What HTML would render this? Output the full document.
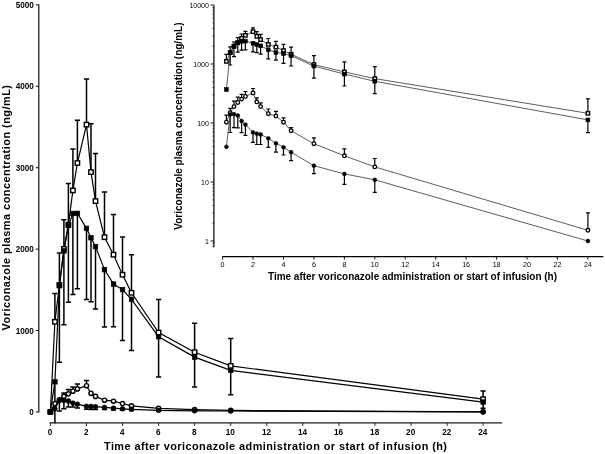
<!DOCTYPE html>
<html lang="en"><head><meta charset="utf-8"><title>Voriconazole plasma concentration</title>
<style>html,body{margin:0;padding:0;background:#fff}body{width:605px;height:454px;overflow:hidden}svg text{fill:#000}</style>
</head><body>
<svg width="605" height="454" viewBox="0 0 605 454" style="display:block;font-family:'Liberation Sans',Arial,sans-serif">
<rect width="605" height="454" fill="#fff"/>
<g id="main">
<path d="M38.8 4.4V412.5" stroke="#1a1a1a" stroke-width="1.25" fill="none"/>
<path d="M49.5 422.9H502.2" stroke="#1a1a1a" stroke-width="1.25" fill="none"/>
<path d="M35.8 411.9H38.8" stroke="#1a1a1a" stroke-width="1.1"/>
<text x="29.3" y="414.9" font-size="9" font-weight="bold" textLength="4.5" lengthAdjust="spacingAndGlyphs">0</text>
<path d="M35.8 330.5H38.8" stroke="#1a1a1a" stroke-width="1.1"/>
<text x="15.7" y="333.5" font-size="9" font-weight="bold" textLength="18.2" lengthAdjust="spacingAndGlyphs">1000</text>
<path d="M35.8 249.1H38.8" stroke="#1a1a1a" stroke-width="1.1"/>
<text x="15.7" y="252.1" font-size="9" font-weight="bold" textLength="18.2" lengthAdjust="spacingAndGlyphs">2000</text>
<path d="M35.8 167.7H38.8" stroke="#1a1a1a" stroke-width="1.1"/>
<text x="15.7" y="170.7" font-size="9" font-weight="bold" textLength="18.2" lengthAdjust="spacingAndGlyphs">3000</text>
<path d="M35.8 86.3H38.8" stroke="#1a1a1a" stroke-width="1.1"/>
<text x="15.7" y="89.3" font-size="9" font-weight="bold" textLength="18.2" lengthAdjust="spacingAndGlyphs">4000</text>
<path d="M35.8 4.9H38.8" stroke="#1a1a1a" stroke-width="1.1"/>
<text x="15.7" y="7.9" font-size="9" font-weight="bold" textLength="18.2" lengthAdjust="spacingAndGlyphs">5000</text>
<path d="M50.4 422.9V426" stroke="#1a1a1a" stroke-width="0.9"/>
<text x="47.8" y="434.9" font-size="9" font-weight="bold" textLength="4.5" lengthAdjust="spacingAndGlyphs">0</text>
<path d="M86.5 422.9V426" stroke="#1a1a1a" stroke-width="0.9"/>
<text x="83.9" y="434.9" font-size="9" font-weight="bold" textLength="4.5" lengthAdjust="spacingAndGlyphs">2</text>
<path d="M122.5 422.9V426" stroke="#1a1a1a" stroke-width="0.9"/>
<text x="119.9" y="434.9" font-size="9" font-weight="bold" textLength="4.5" lengthAdjust="spacingAndGlyphs">4</text>
<path d="M158.6 422.9V426" stroke="#1a1a1a" stroke-width="0.9"/>
<text x="156.0" y="434.9" font-size="9" font-weight="bold" textLength="4.5" lengthAdjust="spacingAndGlyphs">6</text>
<path d="M194.6 422.9V426" stroke="#1a1a1a" stroke-width="0.9"/>
<text x="192.1" y="434.9" font-size="9" font-weight="bold" textLength="4.5" lengthAdjust="spacingAndGlyphs">8</text>
<path d="M230.7 422.9V426" stroke="#1a1a1a" stroke-width="0.9"/>
<text x="225.8" y="434.9" font-size="9" font-weight="bold" textLength="9.1" lengthAdjust="spacingAndGlyphs">10</text>
<path d="M266.8 422.9V426" stroke="#1a1a1a" stroke-width="0.9"/>
<text x="261.9" y="434.9" font-size="9" font-weight="bold" textLength="9.1" lengthAdjust="spacingAndGlyphs">12</text>
<path d="M302.8 422.9V426" stroke="#1a1a1a" stroke-width="0.9"/>
<text x="298.0" y="434.9" font-size="9" font-weight="bold" textLength="9.1" lengthAdjust="spacingAndGlyphs">14</text>
<path d="M338.9 422.9V426" stroke="#1a1a1a" stroke-width="0.9"/>
<text x="334.0" y="434.9" font-size="9" font-weight="bold" textLength="9.1" lengthAdjust="spacingAndGlyphs">16</text>
<path d="M374.9 422.9V426" stroke="#1a1a1a" stroke-width="0.9"/>
<text x="370.1" y="434.9" font-size="9" font-weight="bold" textLength="9.1" lengthAdjust="spacingAndGlyphs">18</text>
<path d="M411.0 422.9V426" stroke="#1a1a1a" stroke-width="0.9"/>
<text x="406.1" y="434.9" font-size="9" font-weight="bold" textLength="9.1" lengthAdjust="spacingAndGlyphs">20</text>
<path d="M447.1 422.9V426" stroke="#1a1a1a" stroke-width="0.9"/>
<text x="442.2" y="434.9" font-size="9" font-weight="bold" textLength="9.1" lengthAdjust="spacingAndGlyphs">22</text>
<path d="M483.1 422.9V426" stroke="#1a1a1a" stroke-width="0.9"/>
<text x="478.3" y="434.9" font-size="9" font-weight="bold" textLength="9.1" lengthAdjust="spacingAndGlyphs">24</text>
<text x="104" y="449.8" font-size="10.9" font-weight="bold" textLength="343" lengthAdjust="spacing">Time after voriconazole administration or start of infusion (h)</text>
<text transform="translate(9.5 330.4) rotate(-90)" font-size="10.9" font-weight="bold" textLength="245.4" lengthAdjust="spacing">Voriconazole plasma concentration (ng/mL)</text>
<path d="M54.9 321.8V293.5M52.3 293.5H57.5" stroke="#000" stroke-width="1.5" fill="none"/>
<path d="M54.9 381.9V423.2M54.9 423.2H54.9" stroke="#000" stroke-width="1.5" fill="none"/>
<path d="M59.4 284.9V253.1M56.8 253.1H62.0" stroke="#000" stroke-width="1.5" fill="none"/>
<path d="M59.4 285.7V362.3M56.8 362.3H62.0" stroke="#000" stroke-width="1.5" fill="none"/>
<path d="M59.4 400.5V410.9M56.8 410.9H62.0" stroke="#000" stroke-width="1.5" fill="none"/>
<path d="M63.9 248.9V219.8M61.3 219.8H66.5" stroke="#000" stroke-width="1.5" fill="none"/>
<path d="M63.9 250.9V324.8M61.3 324.8H66.5" stroke="#000" stroke-width="1.5" fill="none"/>
<path d="M63.9 396.4V392.9M61.3 392.9H66.5" stroke="#000" stroke-width="1.5" fill="none"/>
<path d="M63.9 400.4V408.8M61.3 408.8H66.5" stroke="#000" stroke-width="1.5" fill="none"/>
<path d="M68.4 224.7V183.4M65.8 183.4H71.0" stroke="#000" stroke-width="1.5" fill="none"/>
<path d="M68.4 225.6V302.3M65.8 302.3H71.0" stroke="#000" stroke-width="1.5" fill="none"/>
<path d="M68.4 393.8V389.5M65.8 389.5H71.0" stroke="#000" stroke-width="1.5" fill="none"/>
<path d="M68.4 401.0V406.9M65.8 406.9H71.0" stroke="#000" stroke-width="1.5" fill="none"/>
<path d="M72.9 190.4V149.0M70.3 149.0H75.5" stroke="#000" stroke-width="1.5" fill="none"/>
<path d="M72.9 213.5V294.5M70.3 294.5H75.5" stroke="#000" stroke-width="1.5" fill="none"/>
<path d="M72.9 391.2V387.1M70.3 387.1H75.5" stroke="#000" stroke-width="1.5" fill="none"/>
<path d="M72.9 403.1V407.0M70.3 407.0H75.5" stroke="#000" stroke-width="1.5" fill="none"/>
<path d="M77.4 163.0V120.3M74.8 120.3H80.0" stroke="#000" stroke-width="1.5" fill="none"/>
<path d="M77.4 213.3V288.7M74.8 288.7H80.0" stroke="#000" stroke-width="1.5" fill="none"/>
<path d="M77.4 388.9V384.1M74.8 384.1H80.0" stroke="#000" stroke-width="1.5" fill="none"/>
<path d="M77.4 404.2V408.1M74.8 408.1H80.0" stroke="#000" stroke-width="1.5" fill="none"/>
<path d="M86.5 124.6V79.0M83.9 79.0H89.1" stroke="#000" stroke-width="1.5" fill="none"/>
<path d="M86.5 228.4V299.5M83.9 299.5H89.1" stroke="#000" stroke-width="1.5" fill="none"/>
<path d="M86.5 385.7V380.6M83.9 380.6H89.1" stroke="#000" stroke-width="1.5" fill="none"/>
<path d="M86.5 406.3V409.3M83.9 409.3H89.1" stroke="#000" stroke-width="1.5" fill="none"/>
<path d="M91.0 172.1V123.8M88.4 123.8H93.6" stroke="#000" stroke-width="1.5" fill="none"/>
<path d="M91.0 237.7V301.8M88.4 301.8H93.6" stroke="#000" stroke-width="1.5" fill="none"/>
<path d="M91.0 406.5V409.5M88.4 409.5H93.6" stroke="#000" stroke-width="1.5" fill="none"/>
<path d="M95.5 201.1V153.5M92.9 153.5H98.1" stroke="#000" stroke-width="1.5" fill="none"/>
<path d="M95.5 246.6V308.9M92.9 308.9H98.1" stroke="#000" stroke-width="1.5" fill="none"/>
<path d="M95.5 406.7V409.5M92.9 409.5H98.1" stroke="#000" stroke-width="1.5" fill="none"/>
<path d="M104.5 237.2V192.1M101.9 192.1H107.1" stroke="#000" stroke-width="1.5" fill="none"/>
<path d="M104.5 269.6V327.1M101.9 327.1H107.1" stroke="#000" stroke-width="1.5" fill="none"/>
<path d="M104.5 407.4V409.5M101.9 409.5H107.1" stroke="#000" stroke-width="1.5" fill="none"/>
<path d="M113.5 254.7V214.4M110.9 214.4H116.1" stroke="#000" stroke-width="1.5" fill="none"/>
<path d="M113.5 284.0V326.8M110.9 326.8H116.1" stroke="#000" stroke-width="1.5" fill="none"/>
<path d="M113.5 408.2V409.9M110.9 409.9H116.1" stroke="#000" stroke-width="1.5" fill="none"/>
<path d="M122.5 274.7V236.9M119.9 236.9H125.1" stroke="#000" stroke-width="1.5" fill="none"/>
<path d="M122.5 289.6V340.4M119.9 340.4H125.1" stroke="#000" stroke-width="1.5" fill="none"/>
<path d="M122.5 408.8V410.1M119.9 410.1H125.1" stroke="#000" stroke-width="1.5" fill="none"/>
<path d="M131.5 292.8V254.7M128.9 254.7H134.1" stroke="#000" stroke-width="1.5" fill="none"/>
<path d="M131.5 299.3V350.4M128.9 350.4H134.1" stroke="#000" stroke-width="1.5" fill="none"/>
<path d="M131.5 409.3V410.4M128.9 410.4H134.1" stroke="#000" stroke-width="1.5" fill="none"/>
<path d="M158.6 332.5V299.6M156.0 299.6H161.2" stroke="#000" stroke-width="1.5" fill="none"/>
<path d="M158.6 336.8V377.1M156.0 377.1H161.2" stroke="#000" stroke-width="1.5" fill="none"/>
<path d="M158.6 410.4V411.1M156.0 411.1H161.2" stroke="#000" stroke-width="1.5" fill="none"/>
<path d="M194.6 352.2V323.3M192.0 323.3H197.2" stroke="#000" stroke-width="1.5" fill="none"/>
<path d="M194.6 357.1V387.1M192.0 387.1H197.2" stroke="#000" stroke-width="1.5" fill="none"/>
<path d="M194.6 410.8V411.3M192.0 411.3H197.2" stroke="#000" stroke-width="1.5" fill="none"/>
<path d="M230.7 365.9V338.6M228.1 338.6H233.3" stroke="#000" stroke-width="1.5" fill="none"/>
<path d="M230.7 370.4V394.8M228.1 394.8H233.3" stroke="#000" stroke-width="1.5" fill="none"/>
<path d="M230.7 411.0V411.5M228.1 411.5H233.3" stroke="#000" stroke-width="1.5" fill="none"/>
<path d="M483.1 399.2V391.1M480.5 391.1H485.7" stroke="#000" stroke-width="1.5" fill="none"/>
<path d="M483.1 402.1V408.2M480.5 408.2H485.7" stroke="#000" stroke-width="1.5" fill="none"/>
<polyline fill="none" stroke="#000" stroke-width="1.2" points="50.4,411.9 54.9,321.8 59.4,284.9 63.9,248.9 68.4,224.7 72.9,190.4 77.4,163.0 86.5,124.6 91.0,172.1 95.5,201.1 104.5,237.2 113.5,254.7 122.5,274.7 131.5,292.8 158.6,332.5 194.6,352.2 230.7,365.9 483.1,399.2"/>
<polyline fill="none" stroke="#000" stroke-width="1.2" points="50.4,411.9 54.9,381.9 59.4,285.7 63.9,250.9 68.4,225.6 72.9,213.5 77.4,213.3 86.5,228.4 91.0,237.7 95.5,246.6 104.5,269.6 113.5,284.0 122.5,289.6 131.5,299.3 158.6,336.8 194.6,357.1 230.7,370.4 483.1,402.1"/>
<polyline fill="none" stroke="#000" stroke-width="1.2" points="50.4,411.9 54.9,403.5 59.4,399.7 63.9,396.4 68.4,393.8 72.9,391.2 77.4,388.9 86.5,385.7 91.0,393.3 95.5,396.4 104.5,400.2 113.5,401.2 122.5,403.5 131.5,405.9 158.6,408.3 194.6,409.6 230.7,410.4 483.1,411.8"/>
<polyline fill="none" stroke="#000" stroke-width="1.2" points="50.4,411.9 54.9,408.7 59.4,400.5 63.9,400.4 68.4,401.0 72.9,403.1 77.4,404.2 86.5,406.3 91.0,406.5 95.5,406.7 104.5,407.4 113.5,408.2 122.5,408.8 131.5,409.3 158.6,410.4 194.6,410.8 230.7,411.0 483.1,411.8"/>
<rect x="48.2" y="409.7" width="4.4" height="4.4" fill="#fff" stroke="#000" stroke-width="1.4"/>
<rect x="52.7" y="319.6" width="4.4" height="4.4" fill="#fff" stroke="#000" stroke-width="1.4"/>
<rect x="57.2" y="282.7" width="4.4" height="4.4" fill="#fff" stroke="#000" stroke-width="1.4"/>
<rect x="61.7" y="246.7" width="4.4" height="4.4" fill="#fff" stroke="#000" stroke-width="1.4"/>
<rect x="66.2" y="222.5" width="4.4" height="4.4" fill="#fff" stroke="#000" stroke-width="1.4"/>
<rect x="70.7" y="188.2" width="4.4" height="4.4" fill="#fff" stroke="#000" stroke-width="1.4"/>
<rect x="75.2" y="160.8" width="4.4" height="4.4" fill="#fff" stroke="#000" stroke-width="1.4"/>
<rect x="84.3" y="122.4" width="4.4" height="4.4" fill="#fff" stroke="#000" stroke-width="1.4"/>
<rect x="88.8" y="169.9" width="4.4" height="4.4" fill="#fff" stroke="#000" stroke-width="1.4"/>
<rect x="93.3" y="198.9" width="4.4" height="4.4" fill="#fff" stroke="#000" stroke-width="1.4"/>
<rect x="102.3" y="235.0" width="4.4" height="4.4" fill="#fff" stroke="#000" stroke-width="1.4"/>
<rect x="111.3" y="252.5" width="4.4" height="4.4" fill="#fff" stroke="#000" stroke-width="1.4"/>
<rect x="120.3" y="272.5" width="4.4" height="4.4" fill="#fff" stroke="#000" stroke-width="1.4"/>
<rect x="129.3" y="290.6" width="4.4" height="4.4" fill="#fff" stroke="#000" stroke-width="1.4"/>
<rect x="156.4" y="330.3" width="4.4" height="4.4" fill="#fff" stroke="#000" stroke-width="1.4"/>
<rect x="192.4" y="350.0" width="4.4" height="4.4" fill="#fff" stroke="#000" stroke-width="1.4"/>
<rect x="228.5" y="363.7" width="4.4" height="4.4" fill="#fff" stroke="#000" stroke-width="1.4"/>
<rect x="480.9" y="397.0" width="4.4" height="4.4" fill="#fff" stroke="#000" stroke-width="1.4"/>
<rect x="48.1" y="409.6" width="4.5" height="4.5" fill="#000" stroke="#000" stroke-width="0.7"/>
<rect x="52.7" y="379.6" width="4.5" height="4.5" fill="#000" stroke="#000" stroke-width="0.7"/>
<rect x="57.2" y="283.5" width="4.5" height="4.5" fill="#000" stroke="#000" stroke-width="0.7"/>
<rect x="61.7" y="248.7" width="4.5" height="4.5" fill="#000" stroke="#000" stroke-width="0.7"/>
<rect x="66.2" y="223.3" width="4.5" height="4.5" fill="#000" stroke="#000" stroke-width="0.7"/>
<rect x="70.7" y="211.2" width="4.5" height="4.5" fill="#000" stroke="#000" stroke-width="0.7"/>
<rect x="75.2" y="211.1" width="4.5" height="4.5" fill="#000" stroke="#000" stroke-width="0.7"/>
<rect x="84.2" y="226.1" width="4.5" height="4.5" fill="#000" stroke="#000" stroke-width="0.7"/>
<rect x="88.7" y="235.5" width="4.5" height="4.5" fill="#000" stroke="#000" stroke-width="0.7"/>
<rect x="93.2" y="244.3" width="4.5" height="4.5" fill="#000" stroke="#000" stroke-width="0.7"/>
<rect x="102.2" y="267.4" width="4.5" height="4.5" fill="#000" stroke="#000" stroke-width="0.7"/>
<rect x="111.3" y="281.8" width="4.5" height="4.5" fill="#000" stroke="#000" stroke-width="0.7"/>
<rect x="120.3" y="287.3" width="4.5" height="4.5" fill="#000" stroke="#000" stroke-width="0.7"/>
<rect x="129.3" y="297.0" width="4.5" height="4.5" fill="#000" stroke="#000" stroke-width="0.7"/>
<rect x="156.3" y="334.5" width="4.5" height="4.5" fill="#000" stroke="#000" stroke-width="0.7"/>
<rect x="192.4" y="354.9" width="4.5" height="4.5" fill="#000" stroke="#000" stroke-width="0.7"/>
<rect x="228.5" y="368.1" width="4.5" height="4.5" fill="#000" stroke="#000" stroke-width="0.7"/>
<rect x="480.9" y="399.8" width="4.5" height="4.5" fill="#000" stroke="#000" stroke-width="0.7"/>
<circle cx="50.4" cy="411.9" r="2.1" fill="#fff" stroke="#000" stroke-width="1.45"/>
<circle cx="54.9" cy="403.5" r="2.1" fill="#fff" stroke="#000" stroke-width="1.45"/>
<circle cx="59.4" cy="399.7" r="2.1" fill="#fff" stroke="#000" stroke-width="1.45"/>
<circle cx="63.9" cy="396.4" r="2.1" fill="#fff" stroke="#000" stroke-width="1.45"/>
<circle cx="68.4" cy="393.8" r="2.1" fill="#fff" stroke="#000" stroke-width="1.45"/>
<circle cx="72.9" cy="391.2" r="2.1" fill="#fff" stroke="#000" stroke-width="1.45"/>
<circle cx="77.4" cy="388.9" r="2.1" fill="#fff" stroke="#000" stroke-width="1.45"/>
<circle cx="86.5" cy="385.7" r="2.1" fill="#fff" stroke="#000" stroke-width="1.45"/>
<circle cx="91.0" cy="393.3" r="2.1" fill="#fff" stroke="#000" stroke-width="1.45"/>
<circle cx="95.5" cy="396.4" r="2.1" fill="#fff" stroke="#000" stroke-width="1.45"/>
<circle cx="104.5" cy="400.2" r="2.1" fill="#fff" stroke="#000" stroke-width="1.45"/>
<circle cx="113.5" cy="401.2" r="2.1" fill="#fff" stroke="#000" stroke-width="1.45"/>
<circle cx="122.5" cy="403.5" r="2.1" fill="#fff" stroke="#000" stroke-width="1.45"/>
<circle cx="131.5" cy="405.9" r="2.1" fill="#fff" stroke="#000" stroke-width="1.45"/>
<circle cx="158.6" cy="408.3" r="2.1" fill="#fff" stroke="#000" stroke-width="1.45"/>
<circle cx="194.6" cy="409.6" r="2.1" fill="#fff" stroke="#000" stroke-width="1.45"/>
<circle cx="230.7" cy="410.4" r="2.1" fill="#fff" stroke="#000" stroke-width="1.45"/>
<circle cx="483.1" cy="411.8" r="2.1" fill="#fff" stroke="#000" stroke-width="1.45"/>
<circle cx="50.4" cy="411.9" r="2.4" fill="#000" stroke="#000" stroke-width="0.6"/>
<circle cx="54.9" cy="408.7" r="2.4" fill="#000" stroke="#000" stroke-width="0.6"/>
<circle cx="59.4" cy="400.5" r="2.4" fill="#000" stroke="#000" stroke-width="0.6"/>
<circle cx="63.9" cy="400.4" r="2.4" fill="#000" stroke="#000" stroke-width="0.6"/>
<circle cx="68.4" cy="401.0" r="2.4" fill="#000" stroke="#000" stroke-width="0.6"/>
<circle cx="72.9" cy="403.1" r="2.4" fill="#000" stroke="#000" stroke-width="0.6"/>
<circle cx="77.4" cy="404.2" r="2.4" fill="#000" stroke="#000" stroke-width="0.6"/>
<circle cx="86.5" cy="406.3" r="2.4" fill="#000" stroke="#000" stroke-width="0.6"/>
<circle cx="91.0" cy="406.5" r="2.4" fill="#000" stroke="#000" stroke-width="0.6"/>
<circle cx="95.5" cy="406.7" r="2.4" fill="#000" stroke="#000" stroke-width="0.6"/>
<circle cx="104.5" cy="407.4" r="2.4" fill="#000" stroke="#000" stroke-width="0.6"/>
<circle cx="113.5" cy="408.2" r="2.4" fill="#000" stroke="#000" stroke-width="0.6"/>
<circle cx="122.5" cy="408.8" r="2.4" fill="#000" stroke="#000" stroke-width="0.6"/>
<circle cx="131.5" cy="409.3" r="2.4" fill="#000" stroke="#000" stroke-width="0.6"/>
<circle cx="158.6" cy="410.4" r="2.4" fill="#000" stroke="#000" stroke-width="0.6"/>
<circle cx="194.6" cy="410.8" r="2.4" fill="#000" stroke="#000" stroke-width="0.6"/>
<circle cx="230.7" cy="411.0" r="2.4" fill="#000" stroke="#000" stroke-width="0.6"/>
<circle cx="483.1" cy="411.8" r="2.4" fill="#000" stroke="#000" stroke-width="0.6"/>
</g>
<g id="inset">
<path d="M213.9 5.3V247.2" stroke="#000" stroke-width="1.2" fill="none"/>
<path d="M222.3 256.6H603.3" stroke="#000" stroke-width="1.15" fill="none"/>
<path d="M210.6 241.0H213.9" stroke="#000" stroke-width="0.9"/>
<text x="208.9" y="244.0" font-size="7" text-anchor="end">1</text>
<path d="M212.3 223.2H213.9" stroke="#000" stroke-width="0.6"/>
<path d="M212.3 212.8H213.9" stroke="#000" stroke-width="0.6"/>
<path d="M212.3 205.5H213.9" stroke="#000" stroke-width="0.6"/>
<path d="M212.3 199.8H213.9" stroke="#000" stroke-width="0.6"/>
<path d="M212.3 195.1H213.9" stroke="#000" stroke-width="0.6"/>
<path d="M212.3 191.1H213.9" stroke="#000" stroke-width="0.6"/>
<path d="M212.3 187.7H213.9" stroke="#000" stroke-width="0.6"/>
<path d="M212.3 184.7H213.9" stroke="#000" stroke-width="0.6"/>
<path d="M210.6 182.0H213.9" stroke="#000" stroke-width="0.9"/>
<text x="208.9" y="185.0" font-size="7" text-anchor="end">10</text>
<path d="M212.3 164.2H213.9" stroke="#000" stroke-width="0.6"/>
<path d="M212.3 153.8H213.9" stroke="#000" stroke-width="0.6"/>
<path d="M212.3 146.5H213.9" stroke="#000" stroke-width="0.6"/>
<path d="M212.3 140.8H213.9" stroke="#000" stroke-width="0.6"/>
<path d="M212.3 136.1H213.9" stroke="#000" stroke-width="0.6"/>
<path d="M212.3 132.1H213.9" stroke="#000" stroke-width="0.6"/>
<path d="M212.3 128.7H213.9" stroke="#000" stroke-width="0.6"/>
<path d="M212.3 125.7H213.9" stroke="#000" stroke-width="0.6"/>
<path d="M210.6 123.0H213.9" stroke="#000" stroke-width="0.9"/>
<text x="208.9" y="126.0" font-size="7" text-anchor="end">100</text>
<path d="M212.3 105.2H213.9" stroke="#000" stroke-width="0.6"/>
<path d="M212.3 94.8H213.9" stroke="#000" stroke-width="0.6"/>
<path d="M212.3 87.5H213.9" stroke="#000" stroke-width="0.6"/>
<path d="M212.3 81.8H213.9" stroke="#000" stroke-width="0.6"/>
<path d="M212.3 77.1H213.9" stroke="#000" stroke-width="0.6"/>
<path d="M212.3 73.1H213.9" stroke="#000" stroke-width="0.6"/>
<path d="M212.3 69.7H213.9" stroke="#000" stroke-width="0.6"/>
<path d="M212.3 66.7H213.9" stroke="#000" stroke-width="0.6"/>
<path d="M210.6 64.0H213.9" stroke="#000" stroke-width="0.9"/>
<text x="208.9" y="67.0" font-size="7" text-anchor="end">1000</text>
<path d="M212.3 46.2H213.9" stroke="#000" stroke-width="0.6"/>
<path d="M212.3 35.8H213.9" stroke="#000" stroke-width="0.6"/>
<path d="M212.3 28.5H213.9" stroke="#000" stroke-width="0.6"/>
<path d="M212.3 22.8H213.9" stroke="#000" stroke-width="0.6"/>
<path d="M212.3 18.1H213.9" stroke="#000" stroke-width="0.6"/>
<path d="M212.3 14.1H213.9" stroke="#000" stroke-width="0.6"/>
<path d="M212.3 10.7H213.9" stroke="#000" stroke-width="0.6"/>
<path d="M212.3 7.7H213.9" stroke="#000" stroke-width="0.6"/>
<path d="M210.6 5.0H213.9" stroke="#000" stroke-width="0.9"/>
<text x="208.9" y="8.0" font-size="7" text-anchor="end">10000</text>
<path d="M212.3 243.7H213.9" stroke="#000" stroke-width="0.6"/>
<path d="M212.3 246.7H213.9" stroke="#000" stroke-width="0.6"/>
<path d="M222.6 256.6V259.6" stroke="#000" stroke-width="0.9"/>
<text x="222.6" y="266.9" font-size="7.1" text-anchor="middle">0</text>
<path d="M253.0 256.6V259.6" stroke="#000" stroke-width="0.9"/>
<text x="253.0" y="266.9" font-size="7.1" text-anchor="middle">2</text>
<path d="M283.5 256.6V259.6" stroke="#000" stroke-width="0.9"/>
<text x="283.5" y="266.9" font-size="7.1" text-anchor="middle">4</text>
<path d="M313.9 256.6V259.6" stroke="#000" stroke-width="0.9"/>
<text x="313.9" y="266.9" font-size="7.1" text-anchor="middle">6</text>
<path d="M344.4 256.6V259.6" stroke="#000" stroke-width="0.9"/>
<text x="344.4" y="266.9" font-size="7.1" text-anchor="middle">8</text>
<path d="M374.8 256.6V259.6" stroke="#000" stroke-width="0.9"/>
<text x="374.8" y="266.9" font-size="7.1" text-anchor="middle">10</text>
<path d="M405.2 256.6V259.6" stroke="#000" stroke-width="0.9"/>
<text x="405.2" y="266.9" font-size="7.1" text-anchor="middle">12</text>
<path d="M435.7 256.6V259.6" stroke="#000" stroke-width="0.9"/>
<text x="435.7" y="266.9" font-size="7.1" text-anchor="middle">14</text>
<path d="M466.1 256.6V259.6" stroke="#000" stroke-width="0.9"/>
<text x="466.1" y="266.9" font-size="7.1" text-anchor="middle">16</text>
<path d="M496.6 256.6V259.6" stroke="#000" stroke-width="0.9"/>
<text x="496.6" y="266.9" font-size="7.1" text-anchor="middle">18</text>
<path d="M527.0 256.6V259.6" stroke="#000" stroke-width="0.9"/>
<text x="527.0" y="266.9" font-size="7.1" text-anchor="middle">20</text>
<path d="M557.4 256.6V259.6" stroke="#000" stroke-width="0.9"/>
<text x="557.4" y="266.9" font-size="7.1" text-anchor="middle">22</text>
<path d="M587.9 256.6V259.6" stroke="#000" stroke-width="0.9"/>
<text x="587.9" y="266.9" font-size="7.1" text-anchor="middle">24</text>
<text x="412.5" y="279.8" font-size="10" font-weight="bold" text-anchor="middle" textLength="289" lengthAdjust="spacingAndGlyphs">Time after voriconazole administration or start of infusion (h)</text>
<text transform="translate(182.3 126.1) rotate(-90)" font-size="10" font-weight="bold" text-anchor="middle" textLength="207.2" lengthAdjust="spacingAndGlyphs">Voriconazole plasma concentration (ng/mL)</text>
<path d="M226.4 61.4V54.4M224.4 54.4H228.4" stroke="#000" stroke-width="1.2" fill="none"/>
<path d="M226.4 122.2V115.1M224.4 115.1H228.4" stroke="#000" stroke-width="1.2" fill="none"/>
<path d="M230.2 52.6V46.9M228.2 46.9H232.2" stroke="#000" stroke-width="1.2" fill="none"/>
<path d="M230.2 52.8V65.0M228.2 65.0H232.2" stroke="#000" stroke-width="1.2" fill="none"/>
<path d="M230.2 112.6V108.4M228.2 108.4H232.2" stroke="#000" stroke-width="1.2" fill="none"/>
<path d="M230.2 114.4V132.5M228.2 132.5H232.2" stroke="#000" stroke-width="1.2" fill="none"/>
<path d="M234.0 46.2V42.0M232.0 42.0H236.0" stroke="#000" stroke-width="1.2" fill="none"/>
<path d="M234.0 46.5V56.7M232.0 56.7H236.0" stroke="#000" stroke-width="1.2" fill="none"/>
<path d="M234.0 106.6V101.2M232.0 101.2H236.0" stroke="#000" stroke-width="1.2" fill="none"/>
<path d="M234.0 114.2V127.6M232.0 127.6H236.0" stroke="#000" stroke-width="1.2" fill="none"/>
<path d="M237.8 42.7V37.6M235.8 37.6H239.8" stroke="#000" stroke-width="1.2" fill="none"/>
<path d="M237.8 42.8V52.2M235.8 52.2H239.8" stroke="#000" stroke-width="1.2" fill="none"/>
<path d="M237.8 102.5V97.1M235.8 97.1H239.8" stroke="#000" stroke-width="1.2" fill="none"/>
<path d="M237.8 115.5V127.9M235.8 127.9H239.8" stroke="#000" stroke-width="1.2" fill="none"/>
<path d="M241.6 38.3V34.0M239.6 34.0H243.6" stroke="#000" stroke-width="1.2" fill="none"/>
<path d="M241.6 41.2V50.2M239.6 50.2H243.6" stroke="#000" stroke-width="1.2" fill="none"/>
<path d="M241.6 99.1V94.4M239.6 94.4H243.6" stroke="#000" stroke-width="1.2" fill="none"/>
<path d="M241.6 121.0V132.6M239.6 132.6H243.6" stroke="#000" stroke-width="1.2" fill="none"/>
<path d="M245.4 35.4V31.3M243.4 31.3H247.4" stroke="#000" stroke-width="1.2" fill="none"/>
<path d="M245.4 41.1V49.8M243.4 49.8H247.4" stroke="#000" stroke-width="1.2" fill="none"/>
<path d="M245.4 96.4V91.5M243.4 91.5H247.4" stroke="#000" stroke-width="1.2" fill="none"/>
<path d="M245.4 124.6V135.4M243.4 135.4H247.4" stroke="#000" stroke-width="1.2" fill="none"/>
<path d="M253.0 31.7V27.9M251.0 27.9H255.0" stroke="#000" stroke-width="1.2" fill="none"/>
<path d="M253.0 43.2V51.9M251.0 51.9H255.0" stroke="#000" stroke-width="1.2" fill="none"/>
<path d="M253.0 93.0V88.5M251.0 88.5H255.0" stroke="#000" stroke-width="1.2" fill="none"/>
<path d="M253.0 132.4V142.3M251.0 142.3H255.0" stroke="#000" stroke-width="1.2" fill="none"/>
<path d="M256.8 36.3V31.6M254.8 31.6H258.8" stroke="#000" stroke-width="1.2" fill="none"/>
<path d="M256.8 44.5V52.7M254.8 52.7H258.8" stroke="#000" stroke-width="1.2" fill="none"/>
<path d="M256.8 101.9V97.9M254.8 97.9H258.8" stroke="#000" stroke-width="1.2" fill="none"/>
<path d="M256.8 133.7V144.5M254.8 144.5H258.8" stroke="#000" stroke-width="1.2" fill="none"/>
<path d="M260.6 39.6V34.4M258.6 34.4H262.6" stroke="#000" stroke-width="1.2" fill="none"/>
<path d="M260.6 45.8V54.2M258.6 54.2H262.6" stroke="#000" stroke-width="1.2" fill="none"/>
<path d="M260.6 106.6V102.8M258.6 102.8H262.6" stroke="#000" stroke-width="1.2" fill="none"/>
<path d="M260.6 134.5V144.5M258.6 144.5H262.6" stroke="#000" stroke-width="1.2" fill="none"/>
<path d="M268.3 44.4V38.5M266.3 38.5H270.3" stroke="#000" stroke-width="1.2" fill="none"/>
<path d="M268.3 49.7V58.8M266.3 58.8H270.3" stroke="#000" stroke-width="1.2" fill="none"/>
<path d="M268.3 113.7V109.0M266.3 109.0H270.3" stroke="#000" stroke-width="1.2" fill="none"/>
<path d="M268.3 138.3V147.4M266.3 147.4H270.3" stroke="#000" stroke-width="1.2" fill="none"/>
<path d="M275.9 47.1V41.3M273.9 41.3H277.9" stroke="#000" stroke-width="1.2" fill="none"/>
<path d="M275.9 52.4V60.2M273.9 60.2H277.9" stroke="#000" stroke-width="1.2" fill="none"/>
<path d="M275.9 116.1V111.4M273.9 111.4H277.9" stroke="#000" stroke-width="1.2" fill="none"/>
<path d="M275.9 143.3V152.2M273.9 152.2H277.9" stroke="#000" stroke-width="1.2" fill="none"/>
<path d="M283.5 50.6V44.4M281.5 44.4H285.5" stroke="#000" stroke-width="1.2" fill="none"/>
<path d="M283.5 53.6V63.3M281.5 63.3H285.5" stroke="#000" stroke-width="1.2" fill="none"/>
<path d="M283.5 122.2V117.9M281.5 117.9H285.5" stroke="#000" stroke-width="1.2" fill="none"/>
<path d="M283.5 147.3V155.0M281.5 155.0H285.5" stroke="#000" stroke-width="1.2" fill="none"/>
<path d="M291.1 54.3V47.1M289.1 47.1H293.1" stroke="#000" stroke-width="1.2" fill="none"/>
<path d="M291.1 55.7V66.0M289.1 66.0H293.1" stroke="#000" stroke-width="1.2" fill="none"/>
<path d="M291.1 130.7V127.5M289.1 127.5H293.1" stroke="#000" stroke-width="1.2" fill="none"/>
<path d="M291.1 152.2V160.7M289.1 160.7H293.1" stroke="#000" stroke-width="1.2" fill="none"/>
<path d="M313.9 64.6V55.7M311.9 55.7H315.9" stroke="#000" stroke-width="1.2" fill="none"/>
<path d="M313.9 66.1V78.1M311.9 78.1H315.9" stroke="#000" stroke-width="1.2" fill="none"/>
<path d="M313.9 143.7V137.9M311.9 137.9H315.9" stroke="#000" stroke-width="1.2" fill="none"/>
<path d="M313.9 165.7V173.6M311.9 173.6H315.9" stroke="#000" stroke-width="1.2" fill="none"/>
<path d="M344.4 71.9V61.8M342.4 61.8H346.4" stroke="#000" stroke-width="1.2" fill="none"/>
<path d="M344.4 74.1V86.0M342.4 86.0H346.4" stroke="#000" stroke-width="1.2" fill="none"/>
<path d="M344.4 155.8V148.8M342.4 148.8H346.4" stroke="#000" stroke-width="1.2" fill="none"/>
<path d="M344.4 173.9V184.4M342.4 184.4H346.4" stroke="#000" stroke-width="1.2" fill="none"/>
<path d="M374.8 78.6V66.7M372.8 66.7H376.8" stroke="#000" stroke-width="1.2" fill="none"/>
<path d="M374.8 81.3V93.7M372.8 93.7H376.8" stroke="#000" stroke-width="1.2" fill="none"/>
<path d="M374.8 166.9V158.5M372.8 158.5H376.8" stroke="#000" stroke-width="1.2" fill="none"/>
<path d="M374.8 179.8V192.3M372.8 192.3H376.8" stroke="#000" stroke-width="1.2" fill="none"/>
<path d="M587.9 113.3V98.9M585.9 98.9H589.9" stroke="#000" stroke-width="1.2" fill="none"/>
<path d="M587.9 119.9V132.7M585.9 132.7H589.9" stroke="#000" stroke-width="1.2" fill="none"/>
<path d="M587.9 230.3V212.8M585.9 212.8H589.9" stroke="#000" stroke-width="1.2" fill="none"/>
<polyline fill="none" stroke="#333" stroke-width="0.8" points="226.4,61.4 230.2,52.6 234.0,46.2 237.8,42.7 241.6,38.3 245.4,35.4 253.0,31.7 256.8,36.3 260.6,39.6 268.3,44.4 275.9,47.1 283.5,50.6 291.1,54.3 313.9,64.6 344.4,71.9 374.8,78.6 587.9,113.3"/>
<polyline fill="none" stroke="#333" stroke-width="0.8" points="226.4,89.5 230.2,52.8 234.0,46.5 237.8,42.8 241.6,41.2 245.4,41.1 253.0,43.2 256.8,44.5 260.6,45.8 268.3,49.7 275.9,52.4 283.5,53.6 291.1,55.7 313.9,66.1 344.4,74.1 374.8,81.3 587.9,119.9"/>
<polyline fill="none" stroke="#333" stroke-width="0.8" points="226.4,122.2 230.2,112.6 234.0,106.6 237.8,102.5 241.6,99.1 245.4,96.4 253.0,93.0 256.8,101.9 260.6,106.6 268.3,113.7 275.9,116.1 283.5,122.2 291.1,130.7 313.9,143.7 344.4,155.8 374.8,166.9 587.9,230.3"/>
<polyline fill="none" stroke="#333" stroke-width="0.8" points="226.4,146.8 230.2,114.4 234.0,114.2 237.8,115.5 241.6,121.0 245.4,124.6 253.0,132.4 256.8,133.7 260.6,134.5 268.3,138.3 275.9,143.3 283.5,147.3 291.1,152.2 313.9,165.7 344.4,173.9 374.8,179.8 587.9,241.0"/>
<rect x="224.7" y="59.7" width="3.4" height="3.4" fill="#fff" stroke="#000" stroke-width="1.4"/>
<rect x="228.5" y="50.9" width="3.4" height="3.4" fill="#fff" stroke="#000" stroke-width="1.4"/>
<rect x="232.3" y="44.5" width="3.4" height="3.4" fill="#fff" stroke="#000" stroke-width="1.4"/>
<rect x="236.1" y="41.0" width="3.4" height="3.4" fill="#fff" stroke="#000" stroke-width="1.4"/>
<rect x="239.9" y="36.6" width="3.4" height="3.4" fill="#fff" stroke="#000" stroke-width="1.4"/>
<rect x="243.7" y="33.7" width="3.4" height="3.4" fill="#fff" stroke="#000" stroke-width="1.4"/>
<rect x="251.3" y="30.0" width="3.4" height="3.4" fill="#fff" stroke="#000" stroke-width="1.4"/>
<rect x="255.1" y="34.6" width="3.4" height="3.4" fill="#fff" stroke="#000" stroke-width="1.4"/>
<rect x="258.9" y="37.9" width="3.4" height="3.4" fill="#fff" stroke="#000" stroke-width="1.4"/>
<rect x="266.6" y="42.7" width="3.4" height="3.4" fill="#fff" stroke="#000" stroke-width="1.4"/>
<rect x="274.2" y="45.4" width="3.4" height="3.4" fill="#fff" stroke="#000" stroke-width="1.4"/>
<rect x="281.8" y="48.9" width="3.4" height="3.4" fill="#fff" stroke="#000" stroke-width="1.4"/>
<rect x="289.4" y="52.6" width="3.4" height="3.4" fill="#fff" stroke="#000" stroke-width="1.4"/>
<rect x="312.2" y="62.9" width="3.4" height="3.4" fill="#fff" stroke="#000" stroke-width="1.4"/>
<rect x="342.7" y="70.2" width="3.4" height="3.4" fill="#fff" stroke="#000" stroke-width="1.4"/>
<rect x="373.1" y="76.9" width="3.4" height="3.4" fill="#fff" stroke="#000" stroke-width="1.4"/>
<rect x="586.2" y="111.6" width="3.4" height="3.4" fill="#fff" stroke="#000" stroke-width="1.4"/>
<rect x="224.5" y="87.6" width="3.8" height="3.8" fill="#000" stroke="#000" stroke-width="0.6"/>
<rect x="228.3" y="50.9" width="3.8" height="3.8" fill="#000" stroke="#000" stroke-width="0.6"/>
<rect x="232.1" y="44.6" width="3.8" height="3.8" fill="#000" stroke="#000" stroke-width="0.6"/>
<rect x="235.9" y="40.9" width="3.8" height="3.8" fill="#000" stroke="#000" stroke-width="0.6"/>
<rect x="239.7" y="39.3" width="3.8" height="3.8" fill="#000" stroke="#000" stroke-width="0.6"/>
<rect x="243.5" y="39.2" width="3.8" height="3.8" fill="#000" stroke="#000" stroke-width="0.6"/>
<rect x="251.1" y="41.3" width="3.8" height="3.8" fill="#000" stroke="#000" stroke-width="0.6"/>
<rect x="254.9" y="42.6" width="3.8" height="3.8" fill="#000" stroke="#000" stroke-width="0.6"/>
<rect x="258.8" y="43.9" width="3.8" height="3.8" fill="#000" stroke="#000" stroke-width="0.6"/>
<rect x="266.4" y="47.8" width="3.8" height="3.8" fill="#000" stroke="#000" stroke-width="0.6"/>
<rect x="274.0" y="50.5" width="3.8" height="3.8" fill="#000" stroke="#000" stroke-width="0.6"/>
<rect x="281.6" y="51.7" width="3.8" height="3.8" fill="#000" stroke="#000" stroke-width="0.6"/>
<rect x="289.2" y="53.8" width="3.8" height="3.8" fill="#000" stroke="#000" stroke-width="0.6"/>
<rect x="312.0" y="64.2" width="3.8" height="3.8" fill="#000" stroke="#000" stroke-width="0.6"/>
<rect x="342.5" y="72.2" width="3.8" height="3.8" fill="#000" stroke="#000" stroke-width="0.6"/>
<rect x="372.9" y="79.4" width="3.8" height="3.8" fill="#000" stroke="#000" stroke-width="0.6"/>
<rect x="586.0" y="118.0" width="3.8" height="3.8" fill="#000" stroke="#000" stroke-width="0.6"/>
<circle cx="226.4" cy="122.2" r="1.8" fill="#fff" stroke="#000" stroke-width="1.3"/>
<circle cx="230.2" cy="112.6" r="1.8" fill="#fff" stroke="#000" stroke-width="1.3"/>
<circle cx="234.0" cy="106.6" r="1.8" fill="#fff" stroke="#000" stroke-width="1.3"/>
<circle cx="237.8" cy="102.5" r="1.8" fill="#fff" stroke="#000" stroke-width="1.3"/>
<circle cx="241.6" cy="99.1" r="1.8" fill="#fff" stroke="#000" stroke-width="1.3"/>
<circle cx="245.4" cy="96.4" r="1.8" fill="#fff" stroke="#000" stroke-width="1.3"/>
<circle cx="253.0" cy="93.0" r="1.8" fill="#fff" stroke="#000" stroke-width="1.3"/>
<circle cx="256.8" cy="101.9" r="1.8" fill="#fff" stroke="#000" stroke-width="1.3"/>
<circle cx="260.6" cy="106.6" r="1.8" fill="#fff" stroke="#000" stroke-width="1.3"/>
<circle cx="268.3" cy="113.7" r="1.8" fill="#fff" stroke="#000" stroke-width="1.3"/>
<circle cx="275.9" cy="116.1" r="1.8" fill="#fff" stroke="#000" stroke-width="1.3"/>
<circle cx="283.5" cy="122.2" r="1.8" fill="#fff" stroke="#000" stroke-width="1.3"/>
<circle cx="291.1" cy="130.7" r="1.8" fill="#fff" stroke="#000" stroke-width="1.3"/>
<circle cx="313.9" cy="143.7" r="1.8" fill="#fff" stroke="#000" stroke-width="1.3"/>
<circle cx="344.4" cy="155.8" r="1.8" fill="#fff" stroke="#000" stroke-width="1.3"/>
<circle cx="374.8" cy="166.9" r="1.8" fill="#fff" stroke="#000" stroke-width="1.3"/>
<circle cx="587.9" cy="230.3" r="1.8" fill="#fff" stroke="#000" stroke-width="1.3"/>
<circle cx="226.4" cy="146.8" r="1.9" fill="#000" stroke="#000" stroke-width="0.6"/>
<circle cx="230.2" cy="114.4" r="1.9" fill="#000" stroke="#000" stroke-width="0.6"/>
<circle cx="234.0" cy="114.2" r="1.9" fill="#000" stroke="#000" stroke-width="0.6"/>
<circle cx="237.8" cy="115.5" r="1.9" fill="#000" stroke="#000" stroke-width="0.6"/>
<circle cx="241.6" cy="121.0" r="1.9" fill="#000" stroke="#000" stroke-width="0.6"/>
<circle cx="245.4" cy="124.6" r="1.9" fill="#000" stroke="#000" stroke-width="0.6"/>
<circle cx="253.0" cy="132.4" r="1.9" fill="#000" stroke="#000" stroke-width="0.6"/>
<circle cx="256.8" cy="133.7" r="1.9" fill="#000" stroke="#000" stroke-width="0.6"/>
<circle cx="260.6" cy="134.5" r="1.9" fill="#000" stroke="#000" stroke-width="0.6"/>
<circle cx="268.3" cy="138.3" r="1.9" fill="#000" stroke="#000" stroke-width="0.6"/>
<circle cx="275.9" cy="143.3" r="1.9" fill="#000" stroke="#000" stroke-width="0.6"/>
<circle cx="283.5" cy="147.3" r="1.9" fill="#000" stroke="#000" stroke-width="0.6"/>
<circle cx="291.1" cy="152.2" r="1.9" fill="#000" stroke="#000" stroke-width="0.6"/>
<circle cx="313.9" cy="165.7" r="1.9" fill="#000" stroke="#000" stroke-width="0.6"/>
<circle cx="344.4" cy="173.9" r="1.9" fill="#000" stroke="#000" stroke-width="0.6"/>
<circle cx="374.8" cy="179.8" r="1.9" fill="#000" stroke="#000" stroke-width="0.6"/>
<circle cx="587.9" cy="241.0" r="1.9" fill="#000" stroke="#000" stroke-width="0.6"/>
</g>
</svg>
</body></html>
